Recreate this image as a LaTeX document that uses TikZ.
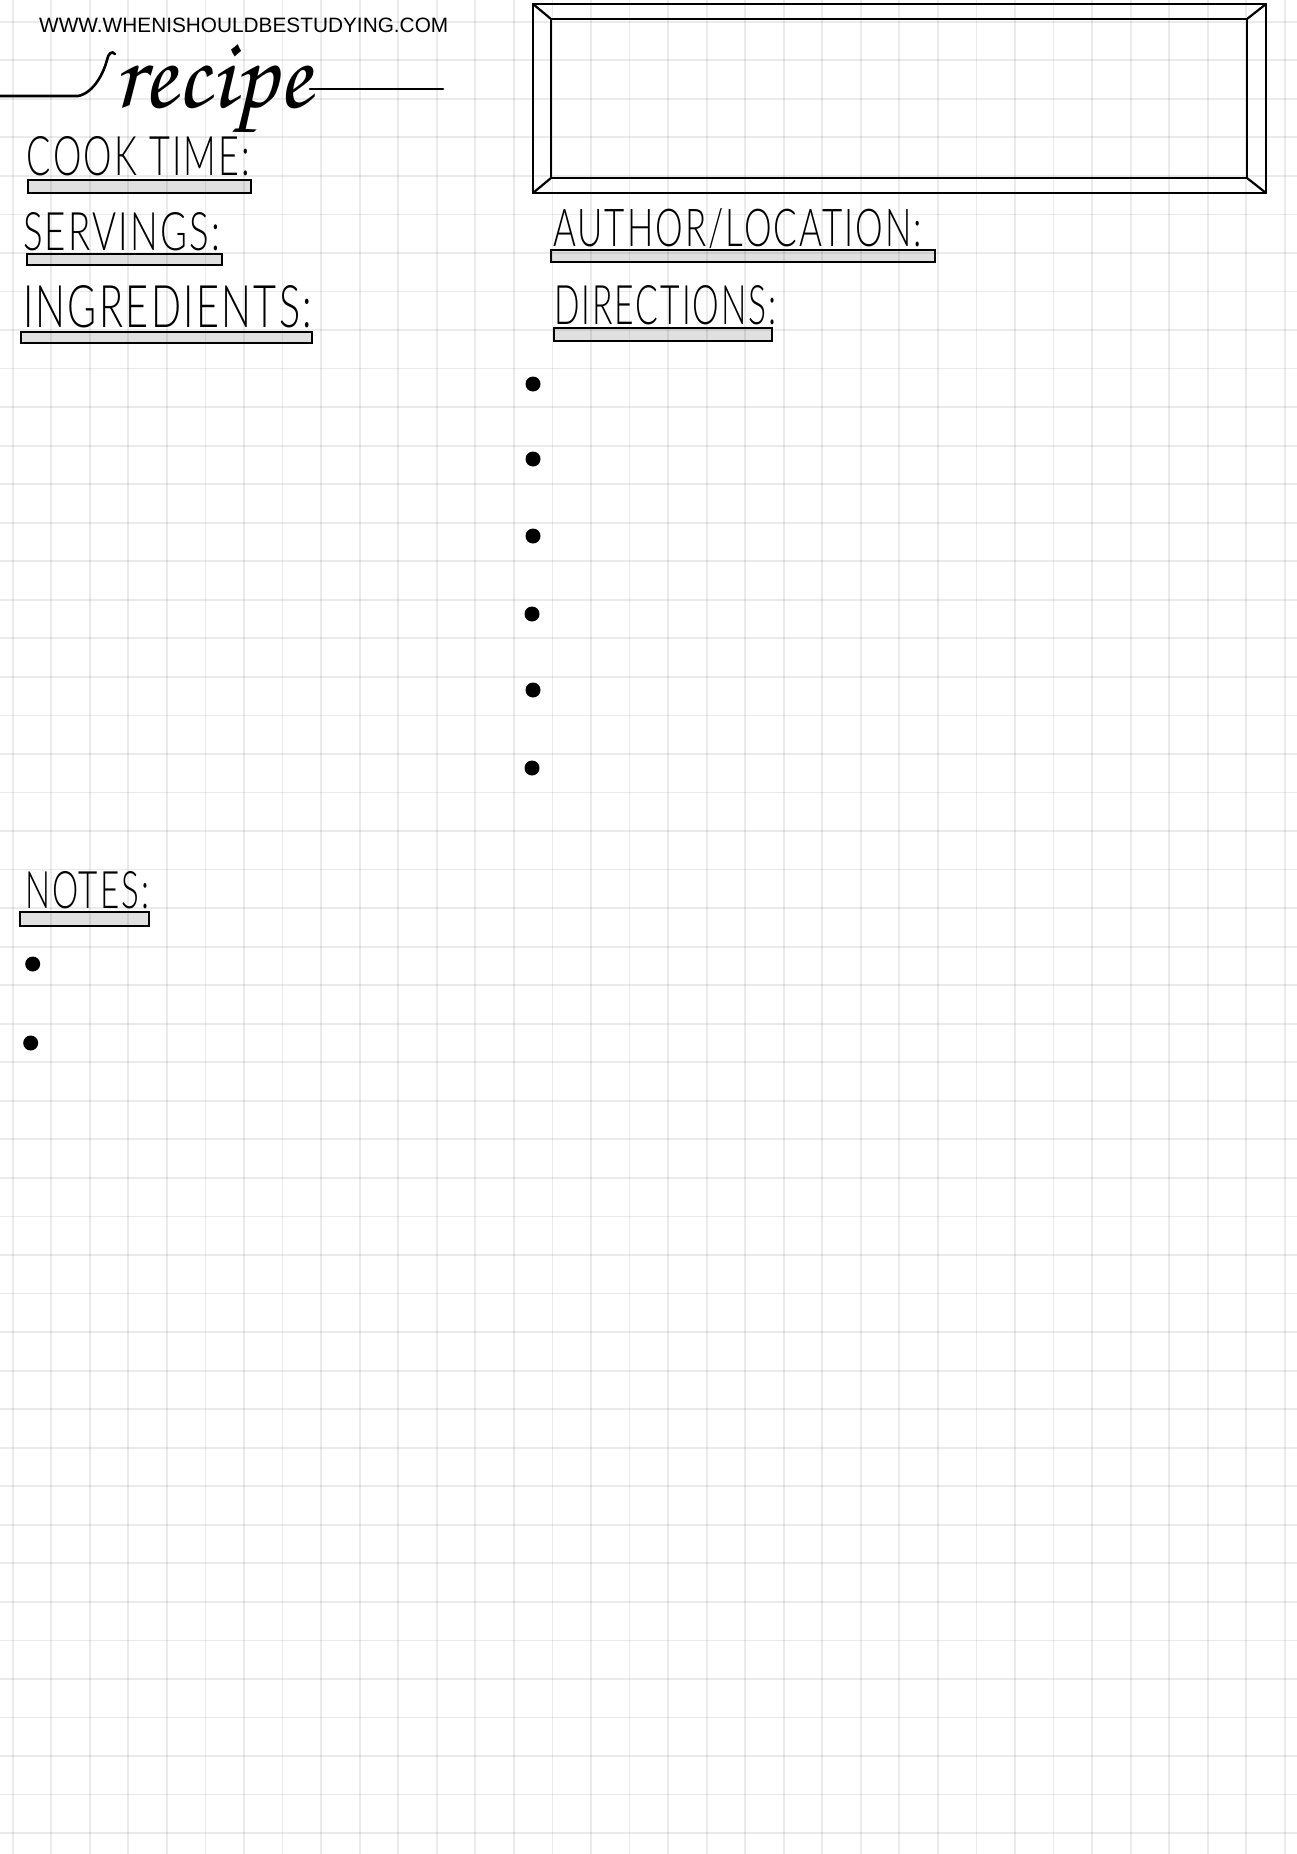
\documentclass[tikz,border=0pt]{standalone}
\usepackage{fontspec}
\usepackage{graphicx}
\setmainfont{Liberation Sans}
\newfontfamily\handfont[LetterSpace=6]{Lato Light}
\newfontfamily\recipefont{TeX Gyre Chorus}
\usetikzlibrary{positioning}
\tikzset{
  gridline/.style={black, opacity=0.08, line width=1.8pt},
  labelbar/.style={draw=black, line width=2pt, fill=black, fill opacity=0.12},
  framerule/.style={black, line width=2.2pt},
  hand/.style={anchor=base west, inner sep=0pt, outer sep=0pt, font=\handfont},
}
\begin{document}
\begin{tikzpicture}[x=1pt,y=-1pt]
\useasboundingbox (0,0) rectangle (1297,1854);
\fill[white] (0,0) rectangle (1297,1854);

\foreach \x in {0,...,33}
   \draw[gridline] ({12.7+38.55*\x},0) -- ({12.7+38.55*\x},1854);
\foreach \y in {0,...,47}
   \draw[gridline] (0,{21.7+38.54*\y}) -- (1297,{21.7+38.54*\y});

\node[anchor=base west, inner sep=0pt, font=\fontsize{20.8}{24}\selectfont] (website) at (39,33) {WWW.WHENISHOULDBESTUDYING.COM};

\node[anchor=north west, inner sep=0pt] (recipe) at (113,44) {\resizebox*{198pt}{88pt}{\recipefont recipe}};
\draw[black, line width=2.6pt, line cap=round] (0,96) -- (78,96) .. controls (94,93) and (104,72) .. (107,60) .. controls (108,54) and (112,50) .. (115,54);
\draw[black, line width=2.6pt, line cap=round] (310,89) -- (443,89);

\filldraw [labelbar] (27.5,180) rectangle (251,193);
\filldraw [labelbar] (26.5,254) rectangle (222,265);
\filldraw [labelbar] (21,332) rectangle (312,343);
\filldraw [labelbar] (551,250) rectangle (935,262);
\filldraw [labelbar] (554,328) rectangle (771.5,341);
\filldraw [labelbar] (19.5,912) rectangle (149,926);

\node[hand] (cooktime) at (27,176) {\resizebox{223pt}{39pt}{COOK TIME:}};
\node[hand] (servings) at (23,250) {\resizebox{197pt}{38pt}{SERVINGS:}};
\node[hand] (ingredients) at (23,327) {\resizebox{289pt}{42pt}{INGREDIENTS:}};
\node[hand] (author) at (553,247) {\resizebox{369pt}{38pt}{AUTHOR/LOCATION:}};
\node[hand] (directions) at (554,324) {\resizebox{223pt}{39pt}{DIRECTIONS:}};
\node[hand] (notes) at (25,908) {\resizebox{124pt}{37pt}{NOTES:}};

\draw[framerule] (533,4) rectangle (1266,193);
\draw[framerule] (551,19) rectangle (1247,178);
\draw[framerule] (533,4) -- (551,19);
\draw[framerule] (1266,4) -- (1247,19);
\draw[framerule] (533,193) -- (551,178);
\draw[framerule] (1266,193) -- (1247,178);

\foreach \x/\y in {533/384,533/459,533/536,532/614,533/690,532/768,32.7/964,30.7/1043}
   \fill[black] (\x,\y) circle (7.5);
\end{tikzpicture}
\end{document}
